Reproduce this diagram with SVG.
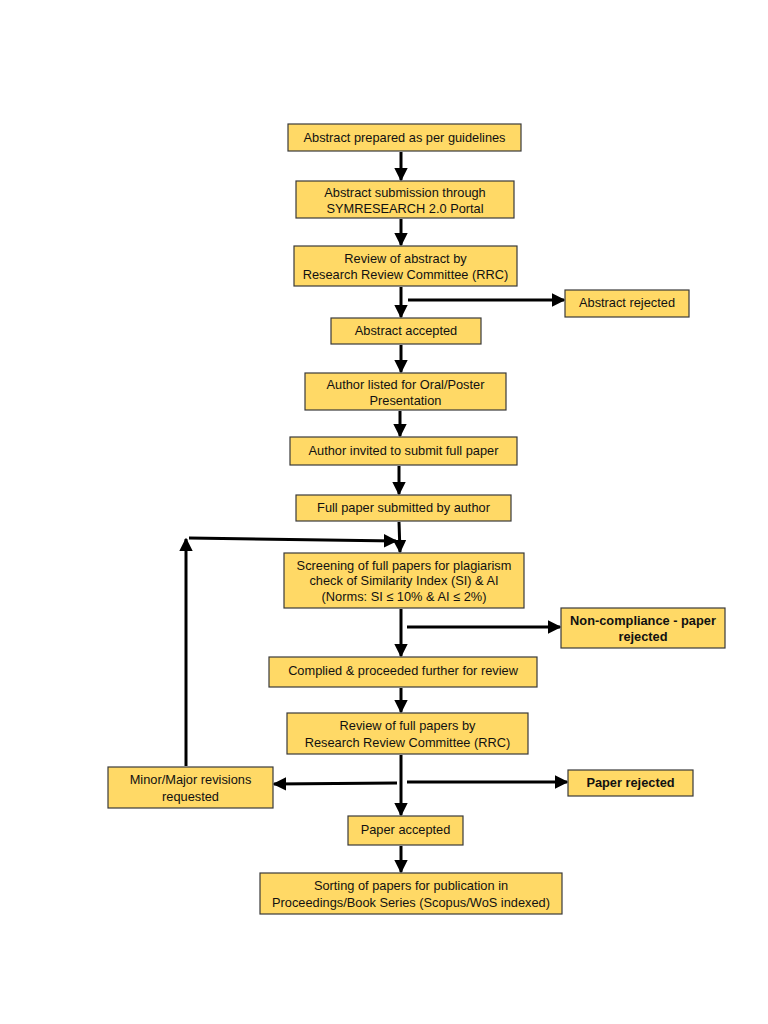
<svg xmlns="http://www.w3.org/2000/svg" width="768" height="1024" viewBox="0 0 768 1024">
<defs>
<style>
.box{fill:#FFD966;stroke:#3a3a3a;stroke-width:1.2}
.t{font-family:"Liberation Sans",Arial,sans-serif;font-size:12.8px;fill:#111;text-anchor:middle}
.b{font-weight:bold}
.c{stroke:#000;stroke-width:3;fill:none}
</style>
<marker id="ah" viewBox="0 0 10 10" refX="9" refY="5" markerWidth="4.5" markerHeight="4.5" orient="auto" markerUnits="strokeWidth">
<path d="M0,0 L10,5 L0,10 z" fill="#000"/>
</marker>
</defs>
<rect width="768" height="1024" fill="#fff"/>
<g id="connectors">
<line class="c" x1="401" y1="152" x2="401" y2="180" marker-end="url(#ah)"/>
<line class="c" x1="401" y1="219" x2="401" y2="245" marker-end="url(#ah)"/>
<line class="c" x1="401" y1="287" x2="401" y2="317" marker-end="url(#ah)"/>
<line class="c" x1="408" y1="300" x2="564" y2="300" marker-end="url(#ah)"/>
<line class="c" x1="401" y1="345" x2="401" y2="372" marker-end="url(#ah)"/>
<line class="c" x1="400" y1="411" x2="400" y2="436" marker-end="url(#ah)"/>
<line class="c" x1="399" y1="466" x2="399" y2="494" marker-end="url(#ah)"/>
<line class="c" x1="399" y1="522" x2="400" y2="552" marker-end="url(#ah)"/>
<line class="c" x1="186" y1="766" x2="186" y2="539" marker-end="url(#ah)"/>
<line class="c" x1="189" y1="538" x2="396" y2="541" marker-end="url(#ah)"/>
<line class="c" x1="401" y1="609" x2="401" y2="656" marker-end="url(#ah)"/>
<line class="c" x1="407" y1="627" x2="560" y2="627" marker-end="url(#ah)"/>
<line class="c" x1="401" y1="688" x2="401" y2="712" marker-end="url(#ah)"/>
<line class="c" x1="401" y1="755" x2="401" y2="815" marker-end="url(#ah)"/>
<line class="c" x1="397" y1="783" x2="274" y2="784" marker-end="url(#ah)"/>
<line class="c" x1="407" y1="782" x2="567" y2="782" marker-end="url(#ah)"/>
<line class="c" x1="401" y1="846" x2="401" y2="872" marker-end="url(#ah)"/>
</g>
<g id="n1"><rect class="box" x="288" y="124" width="233" height="27"/><text class="t" x="404.5" y="142">Abstract prepared as per guidelines</text></g>
<g id="n2"><rect class="box" x="296" y="181" width="218" height="37"/><text class="t" x="405" y="197">Abstract submission through</text><text class="t" x="405" y="213">SYMRESEARCH 2.0 Portal</text></g>
<g id="n3"><rect class="box" x="294" y="246" width="223" height="40"/><text class="t" x="405.5" y="263">Review of abstract by</text><text class="t" x="405.5" y="279">Research Review Committee (RRC)</text></g>
<g id="n4"><rect class="box" x="565" y="290" width="124" height="27"/><text class="t" x="627" y="307">Abstract rejected</text></g>
<g id="n5"><rect class="box" x="331" y="318" width="150" height="26"/><text class="t" x="406" y="335">Abstract accepted</text></g>
<g id="n6"><rect class="box" x="305" y="373" width="201" height="37"/><text class="t" x="405.5" y="389">Author listed for Oral/Poster</text><text class="t" x="405.5" y="405">Presentation</text></g>
<g id="n7"><rect class="box" x="290" y="437" width="227" height="28"/><text class="t" x="403.5" y="455">Author invited to submit full paper</text></g>
<g id="n8"><rect class="box" x="296" y="495" width="215" height="26"/><text class="t" x="403.5" y="512">Full paper submitted by author</text></g>
<g id="n9"><rect class="box" x="284" y="553" width="240" height="55"/><text class="t" x="404" y="570">Screening of full papers for plagiarism</text><text class="t" x="404" y="585">check of Similarity Index (SI) &amp; AI</text><text class="t" x="404" y="601">(Norms: SI ≤ 10% &amp; AI ≤ 2%)</text></g>
<g id="n10"><rect class="box" x="561" y="608" width="164" height="40"/><text class="t b" x="643" y="625">Non-compliance - paper</text><text class="t b" x="643" y="641">rejected</text></g>
<g id="n11"><rect class="box" x="269" y="657" width="268" height="30"/><text class="t" x="403" y="675">Complied &amp; proceeded further for review</text></g>
<g id="n12"><rect class="box" x="287" y="713" width="241" height="41"/><text class="t" x="407.5" y="730">Review of full papers by</text><text class="t" x="407.5" y="747">Research Review Committee (RRC)</text></g>
<g id="n13"><rect class="box" x="108" y="767" width="165" height="41"/><text class="t" x="190.5" y="784">Minor/Major revisions</text><text class="t" x="190.5" y="801">requested</text></g>
<g id="n14"><rect class="box" x="568" y="770" width="125" height="26"/><text class="t b" x="630.5" y="787">Paper rejected</text></g>
<g id="n15"><rect class="box" x="348" y="816" width="115" height="29"/><text class="t" x="405.5" y="834">Paper accepted</text></g>
<g id="n16"><rect class="box" x="260" y="873" width="302" height="41"/><text class="t" x="411" y="890">Sorting of papers for publication in</text><text class="t" x="411" y="907">Proceedings/Book Series (Scopus/WoS indexed)</text></g>
</svg>
